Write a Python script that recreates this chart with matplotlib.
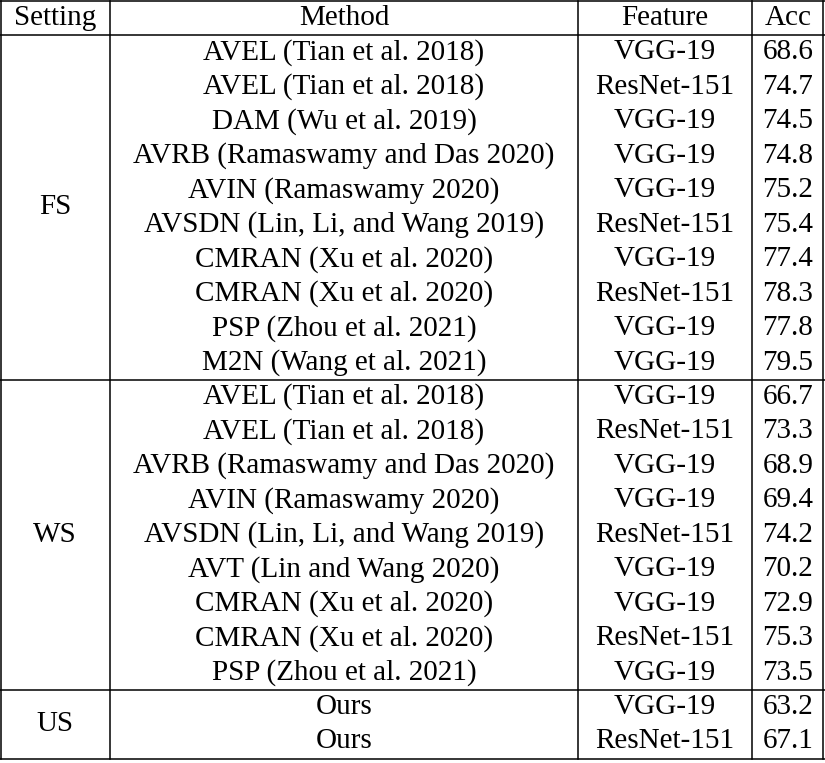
import matplotlib
matplotlib.use("Agg")
import matplotlib.pyplot as plt

headers = ["Setting", "Method", "Feature", "Acc"]
settings = ["FS"] * 10 + ["WS"] * 9 + ["US"] * 2
methods = [
    "AVEL (Tian et al. 2018)", "AVEL (Tian et al. 2018)", "DAM (Wu et al. 2019)",
    "AVRB (Ramaswamy and Das 2020)", "AVIN (Ramaswamy 2020)", "AVSDN (Lin, Li, and Wang 2019)",
    "CMRAN (Xu et al. 2020)", "CMRAN (Xu et al. 2020)", "PSP (Zhou et al. 2021)", "M2N (Wang et al. 2021)",
    "AVEL (Tian et al. 2018)", "AVEL (Tian et al. 2018)", "AVRB (Ramaswamy and Das 2020)",
    "AVIN (Ramaswamy 2020)", "AVSDN (Lin, Li, and Wang 2019)", "AVT (Lin and Wang 2020)",
    "CMRAN (Xu et al. 2020)", "CMRAN (Xu et al. 2020)", "PSP (Zhou et al. 2021)",
    "Ours", "Ours",
]
features = ["VGG-19", "ResNet-151", "VGG-19", "VGG-19", "VGG-19", "ResNet-151", "VGG-19",
            "ResNet-151", "VGG-19", "VGG-19",
            "VGG-19", "ResNet-151", "VGG-19", "VGG-19", "ResNet-151", "VGG-19", "VGG-19",
            "ResNet-151", "VGG-19",
            "VGG-19", "ResNet-151"]
acc = [68.6, 74.7, 74.5, 74.8, 75.2, 75.4, 77.4, 78.3, 77.8, 79.5,
       66.7, 73.3, 68.9, 69.4, 74.2, 70.2, 72.9, 75.3, 73.5,
       63.2, 67.1]

W, H = 825, 763
fig = plt.figure(figsize=(W / 100, H / 100), dpi=100)
ax = fig.add_axes([0, 0, 1, 1])
ax.set_xlim(0, W)
ax.set_ylim(H, 0)
ax.axis("off")

rh = 34.45
y0 = 18
col_x = [55, 344, 665, 788]
vlines = [1, 110, 578, 752, 823]
fs = 21
font = dict(family="Liberation Serif", fontsize=fs, ha="center", va="center")

for x, h in zip(col_x, headers):
    ax.text(x, y0, h, **font)
for i in range(len(methods)):
    y = y0 + (i + 1) * rh
    ax.text(col_x[1], y, methods[i], **font)
    ax.text(col_x[2], y, features[i], **font)
    ax.text(col_x[3], y, f"{acc[i]:.1f}", **font)

groups = []
start = 0
for i in range(1, len(settings) + 1):
    if i == len(settings) or settings[i] != settings[start]:
        groups.append((settings[start], start, i))
        start = i
hl = [1, y0 + rh / 2]
for name, s, e in groups:
    yc = y0 + (s + e + 1) / 2 * rh
    ax.text(col_x[0], yc, name, **font)
    hl.append(y0 + (e + 0.5) * rh)
hl[-1] = min(hl[-1], H - 2)
for y in hl:
    ax.plot([0, W], [y, y], color="black", lw=1.1)
for x in vlines:
    ax.plot([x, x], [1, hl[-1]], color="black", lw=1.1)

fig.savefig("out.png", dpi=100)
